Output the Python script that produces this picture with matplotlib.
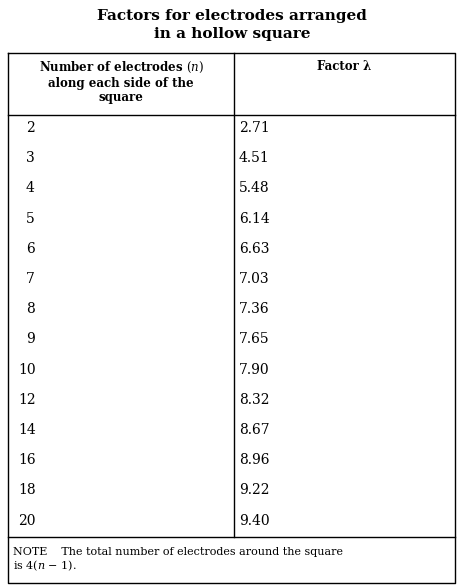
import matplotlib
matplotlib.use("Agg")
import matplotlib.pyplot as plt
plt.rcParams["mathtext.fontset"] = "dejavuserif"

n_values = ["2","3","4","5","6","7","8","9","10","12","14","16","18","20"]
factors = ["2.71","4.51","5.48","6.14","6.63","7.03","7.36","7.65","7.90","8.32","8.67","8.96","9.22","9.40"]
title = "Factors for electrodes arranged\nin a hollow square"
note = "NOTE    The total number of electrodes around the square\nis 4($n$ \u2212 1)."

fig = plt.figure(figsize=(4.6, 5.88), dpi=100)
ax = fig.add_axes([0, 0, 1, 1])
ax.set_xlim(0, 460); ax.set_ylim(588, 0); ax.axis("off")
fam = "DejaVu Serif"
ax.text(232, 25, title, ha="center", va="center", fontsize=11, fontweight="bold", family=fam, linespacing=1.35)
lw = 1.0
L, R, M = 8, 455, 234
ax.plot([L, R, R, L, L], [53, 53, 583, 583, 53], color="black", lw=lw)
ax.plot([L, R], [115, 115], color="black", lw=lw)
ax.plot([L, R], [537, 537], color="black", lw=lw)
ax.plot([M, M], [53, 537], color="black", lw=lw)
ax.text(121, 82, "Number of electrodes $(\\mathit{n})$\nalong each side of the\nsquare", ha="center", va="center",
        fontsize=8.5, fontweight="bold", family=fam, linespacing=1.15)
ax.text(344, 66, "Factor \u03bb", ha="center", va="center", fontsize=8.5, fontweight="bold", family=fam)
y0, dy = 128, 30.2
for i, (n, f) in enumerate(zip(n_values, factors)):
    y = y0 + i * dy
    x = 18 if len(n) > 1 else 26
    ax.text(x, y, n, ha="left", va="center", fontsize=10, family=fam)
    ax.text(239, y, f, ha="left", va="center", fontsize=10, family=fam)
ax.text(13, 560, note, ha="left", va="center", fontsize=8, family=fam, linespacing=1.2)
fig.savefig("out.png", dpi=100)
